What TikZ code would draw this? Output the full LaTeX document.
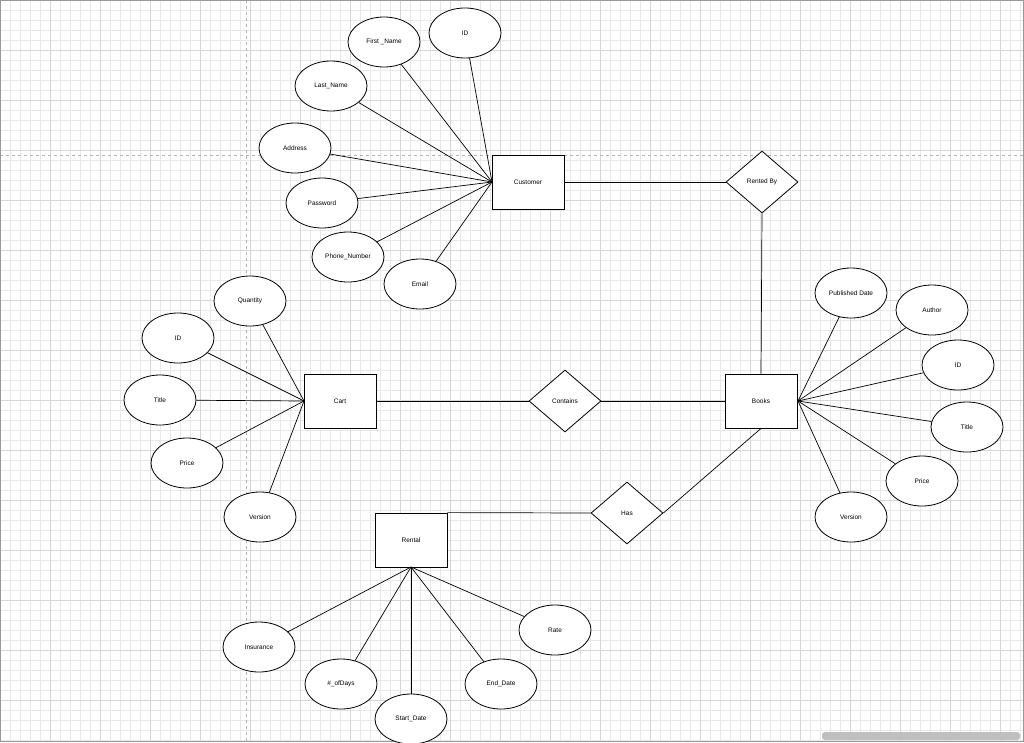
\documentclass[tikz,border=0pt]{standalone}
\usepackage{fontspec}
\setmainfont{Liberation Sans}
\usetikzlibrary{shapes.geometric}
\begin{document}
\begin{tikzpicture}[x=1pt,y=-1pt,
  attr/.style={ellipse,draw,line width=0.8pt,minimum width=72pt,minimum height=50pt,inner sep=0pt,fill=white,font=\fontsize{6.5}{7}\selectfont},
  ent/.style={rectangle,draw,line width=0.8pt,minimum width=72pt,minimum height=54pt,fill=white,font=\fontsize{6.5}{7}\selectfont},
  rel/.style={diamond,draw,line width=0.8pt,minimum width=72pt,minimum height=62pt,inner sep=0pt,fill=white,font=\fontsize{6.5}{7}\selectfont},
  ln/.style={line width=0.7pt}]
\useasboundingbox (0,0) rectangle (1024,742);
\fill[white] (0,0) rectangle (1024,742);
\foreach \i in {0,...,102} {\pgfmathtruncatemacro\v{10*\i}\draw[black!9,line width=0.4pt] (\v,0) -- (\v,742);}
\foreach \i in {0,...,74} {\pgfmathtruncatemacro\v{10*\i}\draw[black!9,line width=0.4pt] (0,\v) -- (1024,\v);}
\foreach \i in {0,...,20} {\pgfmathtruncatemacro\v{50*\i}\draw[black!16,line width=0.5pt] (\v,0) -- (\v,742);}
\foreach \i in {0,...,14} {\pgfmathtruncatemacro\v{50*\i}\draw[black!16,line width=0.5pt] (0,\v) -- (1024,\v);}
\draw[black!30,dashed,line width=0.6pt] (246,0) -- (246,742);
\draw[black!30,dashed,line width=0.6pt] (0,155) -- (1024,155);
\draw[black!40,line width=0.8pt] (0.5,0.5) rectangle (1023.5,741.5);
\fill[black!25,rounded corners=3pt] (822,732) rectangle (1020,740);
% entities
\node[ent] (cust) at (528,182) {Customer};
\node[ent] (books) at (761,401) {Books};
\node[ent] (cart) at (340,401) {Cart};
\node[ent] (rental) at (411,540) {Rental};
\node[rel] (rented) at (762,182) {Rented By};
\node[rel] (contains) at (565,401) {Contains};
\node[rel] (has) at (627,513) {Has};
\coordinate (cc) at (492,182);
\coordinate (bc) at (798,401);
\coordinate (kc) at (304,401);
\coordinate (rc) at (411,567);
% customer attributes
\node[attr] (cfn) at (384,42) {First \_Name};
\node[attr] (cid) at (465,33) {ID};
\node[attr] (cln) at (331,86) {Last\_Name};
\node[attr] (cad) at (295,148) {Address};
\node[attr] (cpw) at (322,203) {Password};
\node[attr] (cph) at (348,257) {Phone\_Number};
\node[attr] (cem) at (420,284) {Email};
% books attributes
\node[attr] (bpd) at (851,293) {Published Date};
\node[attr] (bau) at (932,310) {Author};
\node[attr] (bid) at (958,365) {ID};
\node[attr] (bti) at (967,427) {Title};
\node[attr] (bpr) at (922,481) {Price};
\node[attr] (bve) at (851,517) {Version};
% cart attributes
\node[attr] (kqu) at (250,301) {Quantity};
\node[attr] (kid) at (178,338) {ID};
\node[attr] (kti) at (160,400) {Title};
\node[attr] (kpr) at (187,463) {Price};
\node[attr] (kve) at (260,517) {Version};
% rental attributes
\node[attr] (rin) at (259,647) {Insurance};
\node[attr] (rdy) at (341,684) {\#\_ofDays};
\node[attr] (rsd) at (411,719) {Start\_Date};
\node[attr] (red) at (501,684) {End\_Date};
\node[attr] (rra) at (555,630) {Rate};
% connectors
\foreach \a in {cfn,cid,cln,cad,cpw,cph,cem} \draw[ln] (\a) -- (cc);
\foreach \a in {bpd,bau,bid,bti,bpr,bve} \draw[ln] (\a) -- (bc);
\foreach \a in {kqu,kid,kti,kpr,kve} \draw[ln] (\a) -- (kc);
\foreach \a in {rin,rdy,rsd,red,rra} \draw[ln] (\a) -- (rc);
\draw[ln] (cust.east) -- (rented.west);
\draw[ln] (rented.south) -- (books.north);
\draw[ln] (cart.east) -- (contains.west);
\draw[ln] (contains.east) -- (books.west);
\draw[ln] (books.south) -- (has.east);
\draw[ln] (has.west) -- (rental.north east);
\end{tikzpicture}
\end{document}
